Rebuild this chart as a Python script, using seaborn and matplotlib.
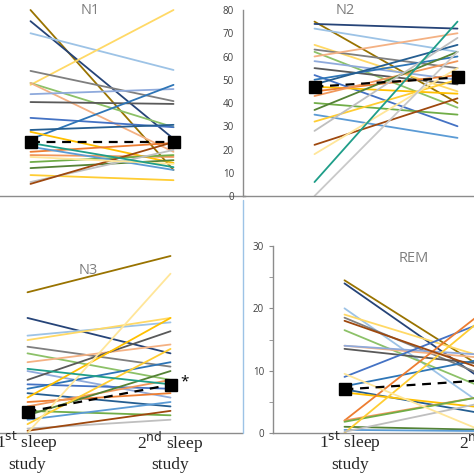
import matplotlib
matplotlib.use("Agg")
import matplotlib.pyplot as plt
import seaborn as sns
import pandas as pd

sns.set_style("white")
plt.rcParams['font.family'] = ['Open Sans', 'DejaVu Sans']

palette = ['#997300', '#264478', '#9DC3E6', '#FFD966', '#7F7F7F', '#8CC168', '#F4B183',
           '#8FAADC', '#595959', '#4472C4', '#2E75B6', '#255E91', '#FFC000', '#ED7D31',
           '#F1975A', '#70AD47', '#548235', '#5B9BD5', '#FFCD33', '#BFBFBF', '#9E480E',
           '#FFE699', '#1F9E89', '#C9C9C9']

n1_first = [40.0, 37.6, 35.0, 23.9, 26.9, 24.3, 24.3, 21.9, 20.2, 16.8, 12.2, 14.2, 13.8, 9.5, 8.8, 7.3, 6.0, 10.6, 4.5, 3.0, 2.6, 8.4, 11.4]
n1_second = [5.6, 12.3, 27.1, 40.0, 20.4, 14.8, 9.5, 23.0, 19.8, 14.8, 23.9, 15.3, 7.1, 11.4, 8.4, 8.8, 7.7, 5.6, 3.4, 9.9, 11.6, 6.9, 6.2]
n1_mean = [11.6, 11.6]

n2_first = [75, 74, 72, 65, 63, 62, 60, 58, 55, 52, 50, 48, 47, 45, 43, 40, 37, 35, 32, 28, 22, 18, 6, 0]
n2_second = [40, 72, 62, 45, 55, 38, 70, 50, 48, 30, 60, 65, 44, 52, 58, 35, 62, 25, 50, 68, 42, 55, 75, 62]
n2_mean = [47, 51]

n3_first = [31.8, 26.0, 22.0, 21.0, 19.5, 18.0, 16.0, 14.0, 12.0, 11.0, 10.0, 9.0, 8.0, 7.0, 6.0, 5.0, 4.0, 3.0, 2.0, 1.0, 0.5, 0.0, 14.5]
n3_second = [40.0, 18.0, 25.0, 26.0, 15.0, 12.0, 20.0, 8.0, 23.0, 10.0, 16.0, 6.0, 26.0, 9.0, 12.0, 4.0, 14.0, 7.0, 19.0, 3.0, 5.0, 36.0, 11.0]
n3_mean = [4.8, 10.9]

rem_first = [24.5, 24.0, 20.0, 19.0, 18.5, 16.5, 14.0, 14.0, 13.5, 9.0, 7.5, 7.0, 6.5, 2.0, 2.0, 1.8, 1.0, 0.5, 0.0, 0.2, 18.0, 9.5]
rem_second = [10.0, 8.0, 4.0, 12.0, 9.0, 7.0, 12.0, 12.5, 11.0, 18.0, 12.0, 3.0, 4.0, 20.0, 6.0, 6.0, 0.5, 0.3, 19.0, 5.0, 10.0, 0.0]
rem_mean = [7.0, 8.5]

xlabels_top = [r"1$^{\rm st}$ sleep", r"2$^{\rm nd}$ sleep"]
xlabels_bottom = ["study", "study"]

W = H = 474.0
fig = plt.figure(figsize=(4.74, 4.74), dpi=100)

def make_ax(left_px, top_px, bottom_px, ymax):
    ax = fig.add_axes([left_px / W, 1 - bottom_px / H, 286 / W, (bottom_px - top_px) / H])
    ax.set_xlim(0.5, 2.5)
    ax.set_ylim(0, ymax)
    ax.patch.set_alpha(0)
    for s in ['top', 'right']:
        ax.spines[s].set_visible(False)
    for s in ['left', 'bottom']:
        ax.spines[s].set_color('#8c8c8c')
        ax.spines[s].set_linewidth(1)
    ax.set_xticks([0.5, 1.5, 2.5])
    ax.set_xticklabels([])
    ax.tick_params(axis='x', length=3, color='#8c8c8c', direction='out')
    return ax

def draw(ax, first, second, mean):
    rows = []
    for i, (a, b) in enumerate(zip(first, second)):
        rows.append(dict(id=i, x=1, y=a))
        rows.append(dict(id=i, x=2, y=b))
    df = pd.DataFrame(rows)
    sns.lineplot(data=df, x='x', y='y', hue='id', palette=palette[:len(first)],
                 legend=False, ax=ax, linewidth=1.3, estimator=None, clip_on=False)
    ax.plot([1, 2], mean, color='black', linestyle=(0, (4, 3)), linewidth=1.6,
            marker='s', markersize=8, clip_on=False, zorder=10)
    ax.set_xlabel('')
    ax.set_ylabel('')
    ax.set_xlim(0.5, 2.5)

def ftext(xp, yp, s, **kw):
    fig.text(xp / W, 1 - yp / H, s, ha='center', va='center', **kw)

ax1 = make_ax(-41, 10, 196, 40)
draw(ax1, n1_first, n1_second, n1_mean)
ax1.spines['left'].set_visible(False)
ax1.set_yticks([])
ftext(90, 10, 'N1', color='#7f7f7f', fontsize=10.5)

ax2 = make_ax(243, 10, 196, 80)
draw(ax2, n2_first, n2_second, n2_mean)
ax2.set_yticks(range(0, 81, 10))
ax2.tick_params(axis='y', labelsize=7, labelcolor='#404040', length=3, color='#8c8c8c')
ftext(345, 10, 'N2', color='#7f7f7f', fontsize=10.5)

ax3 = make_ax(-44, 256, 433, 40)
draw(ax3, n3_first, n3_second, n3_mean)
ax3.spines['left'].set_visible(False)
ax3.set_yticks([])
ftext(88, 270, 'N3', color='#7f7f7f', fontsize=10.5)
ax3.text(2.07, 11.5, '*', ha='left', va='center', fontsize=11, color='black')

ax4 = make_ax(273, 246, 433, 30)
draw(ax4, rem_first, rem_second, rem_mean)
ax4.set_yticks([0, 10, 20, 30])
ax4.set_yticks([5, 15, 25], minor=True)
ax4.tick_params(axis='y', which='both', labelsize=7, labelcolor='#404040', length=3,
                color='#8c8c8c', left=True)
ftext(414, 258, 'REM', color='#7f7f7f', fontsize=10.5)

for xs in ([27, 170], [350, 492]):
    for xp, t, b in zip(xs, xlabels_top, xlabels_bottom):
        ftext(xp, 442, t, fontsize=12.5, family='Liberation Serif')
        ftext(xp, 465, b, fontsize=12.5, family='Liberation Serif')

fig.add_artist(plt.Line2D([243 / W, 243 / W], [1 - 433 / H, 1 - 200 / H],
                          color='#9DC3E6', linewidth=1))

fig.savefig('out.png', dpi=100)
